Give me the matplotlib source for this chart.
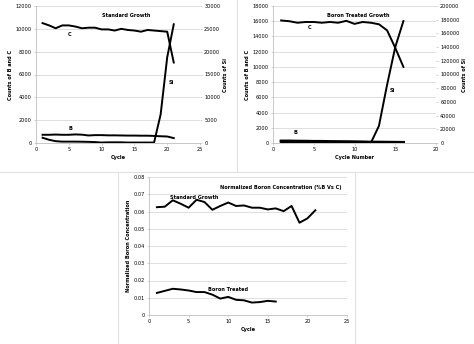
import numpy as np
import matplotlib
matplotlib.use("Agg")
import matplotlib.pyplot as plt

# --- Standard Growth ---
std_cycle = list(range(1, 22))
std_C = [10500, 10300, 10050, 10300, 10300, 10200, 10050, 10100, 10100, 9950,
         9950, 9850, 10000, 9900, 9850, 9750, 9900, 9850, 9800, 9750, 7050]
std_B = [720, 720, 740, 720, 720, 750, 730, 660, 690, 690,
         670, 670, 660, 650, 650, 640, 640, 620, 590, 570, 430]
std_Si = [1150, 700, 400, 300, 300, 300, 280, 250, 200, 100,
          150, 150, 150, 100, 100, 100, 100, 100, 6250, 18750, 26000]

# --- Boron Treated Growth ---
bt_cycle = list(range(1, 17))
bt_C = [16100, 16000, 15800, 15900, 15900, 15800, 15900, 15800, 16050, 15650,
        15900, 15800, 15600, 14800, 12500, 10000]
bt_B = [250, 250, 230, 220, 200, 200, 180, 170, 160, 150,
        130, 100, 100, 90, 80, 70]
bt_Si = [0, 0, 0, 0, 0, 0, 0, 0, 0, 0, 0, 0, 25000, 85000, 140000, 178000]

# --- Normalized Boron ---
norm_std = [0.0625, 0.0628, 0.0665, 0.0645, 0.0622, 0.0668, 0.0655, 0.0610, 0.0632, 0.0652,
            0.0632, 0.0635, 0.0622, 0.0622, 0.0612, 0.0618, 0.0602, 0.0632, 0.0535, 0.0560, 0.0607]
norm_bt = [0.0128, 0.0140, 0.0152, 0.0148, 0.0142, 0.0133, 0.0133, 0.0118, 0.0095, 0.0105,
           0.0088, 0.0085, 0.0072, 0.0075, 0.0082, 0.0078]

W, H = 474, 344
fig = plt.figure(figsize=(W / 100, H / 100), dpi=100)
fig.patch.set_facecolor("white")

FS = 3.6
LW = 1.4
GRID = "#d9d9d9"


def box(l, t, r, b):
    return [l / W, 1 - b / H, (r - l) / W, (b - t) / H]


def style(ax):
    ax.grid(axis="y", color=GRID, linewidth=0.6)
    ax.set_axisbelow(True)
    for s in ["top", "right"]:
        ax.spines[s].set_visible(False)
    for s in ["left", "bottom"]:
        ax.spines[s].set_color("#bfbfbf")
        ax.spines[s].set_linewidth(0.6)
    ax.tick_params(labelsize=FS, length=1.5, width=0.5, color="#bfbfbf", pad=1.5)


def twin_style(ax2):
    for s in ["top", "left", "bottom", "right"]:
        ax2.spines[s].set_visible(False)
    ax2.tick_params(labelsize=FS, length=1.5, width=0.5, color="#bfbfbf", pad=1.5)


# panel borders
fig.add_artist(plt.Line2D([237 / W, 237 / W], [1 - 172 / H, 1], color="#e0e0e0", lw=0.8))
fig.add_artist(plt.Line2D([0, 1], [1 - 172 / H, 1 - 172 / H], color="#e0e0e0", lw=0.8))
fig.add_artist(plt.Line2D([118 / W, 118 / W], [0, 1 - 172 / H], color="#e0e0e0", lw=0.8))
fig.add_artist(plt.Line2D([355 / W, 355 / W], [0, 1 - 172 / H], color="#e0e0e0", lw=0.8))

# Panel 1
ax1 = fig.add_axes(box(36, 6, 200, 143))
style(ax1)
ax1.plot(std_cycle, std_C, color="black", lw=LW)
ax1.plot(std_cycle, std_B, color="black", lw=LW)
ax1.set_xlim(0, 25)
ax1.set_ylim(0, 12000)
ax1.set_yticks(np.arange(0, 12001, 2000))
ax1.set_xticks(np.arange(0, 26, 5))
ax1.set_xlabel("Cycle", fontsize=FS, fontweight="bold", labelpad=2)
ax1.set_ylabel("Counts of B and C", fontsize=FS, fontweight="bold", labelpad=2)
ax1r = ax1.twinx()
twin_style(ax1r)
ax1r.plot(std_cycle, std_Si, color="black", lw=LW)
ax1r.set_ylim(0, 30000)
ax1r.set_yticks(np.arange(0, 30001, 5000))
ax1r.set_ylabel("Counts of Si", fontsize=FS, fontweight="bold", labelpad=2)
ax1.text(0.55, 0.92, "Standard Growth", transform=ax1.transAxes, fontsize=FS, fontweight="bold", ha="center")
ax1.text(4.8, 9400, "C", fontsize=FS, fontweight="bold")
ax1.text(5.0, 1150, "B", fontsize=FS, fontweight="bold")
ax1r.text(20.2, 13000, "Si", fontsize=FS, fontweight="bold")

# Panel 2
ax2 = fig.add_axes(box(273, 6, 436, 143))
style(ax2)
ax2.plot(bt_cycle, bt_C, color="black", lw=LW)
ax2.plot(bt_cycle, bt_B, color="black", lw=LW * 1.6)
ax2.set_xlim(0, 20)
ax2.set_ylim(0, 18000)
ax2.set_yticks(np.arange(0, 18001, 2000))
ax2.set_xticks(np.arange(0, 21, 5))
ax2.set_xlabel("Cycle Number", fontsize=FS, fontweight="bold", labelpad=2)
ax2.set_ylabel("Counts of B and C", fontsize=FS, fontweight="bold", labelpad=2)
ax2r = ax2.twinx()
twin_style(ax2r)
ax2r.plot(bt_cycle, bt_Si, color="black", lw=LW)
ax2r.set_ylim(0, 200000)
ax2r.set_yticks(np.arange(0, 200001, 20000))
ax2r.set_ylabel("Counts of Si", fontsize=FS, fontweight="bold", labelpad=2)
ax2.text(0.52, 0.92, "Boron Treated Growth", transform=ax2.transAxes, fontsize=FS, fontweight="bold", ha="center")
ax2.text(4.3, 15000, "C", fontsize=FS, fontweight="bold")
ax2.text(2.5, 1150, "B", fontsize=FS, fontweight="bold")
ax2r.text(14.3, 75000, "Si", fontsize=FS, fontweight="bold")

# Panel 3
ax3 = fig.add_axes(box(149, 177, 347, 315))
style(ax3)
ax3.plot(std_cycle, norm_std, color="black", lw=LW)
ax3.plot(bt_cycle, norm_bt, color="black", lw=LW)
ax3.set_xlim(0, 25)
ax3.set_ylim(0, 0.08)
ax3.set_yticks(np.arange(0, 0.081, 0.01))
ax3.set_yticklabels(["0", "0.01", "0.02", "0.03", "0.04", "0.05", "0.06", "0.07", "0.08"])
ax3.set_xticks(np.arange(0, 26, 5))
ax3.set_xlabel("Cycle", fontsize=FS, fontweight="bold", labelpad=2)
ax3.set_ylabel("Normalized Boron Concentration", fontsize=FS, fontweight="bold", labelpad=2)
ax3.text(0.97, 0.91, "Normalized Boron Concentration (%B Vs C)", transform=ax3.transAxes,
         fontsize=FS, fontweight="bold", ha="right")
ax3.text(2.6, 0.0675, "Standard Growth", fontsize=FS, fontweight="bold")
ax3.text(7.4, 0.0142, "Boron Treated", fontsize=FS, fontweight="bold")

fig.savefig("out.png", dpi=100, facecolor="white")
